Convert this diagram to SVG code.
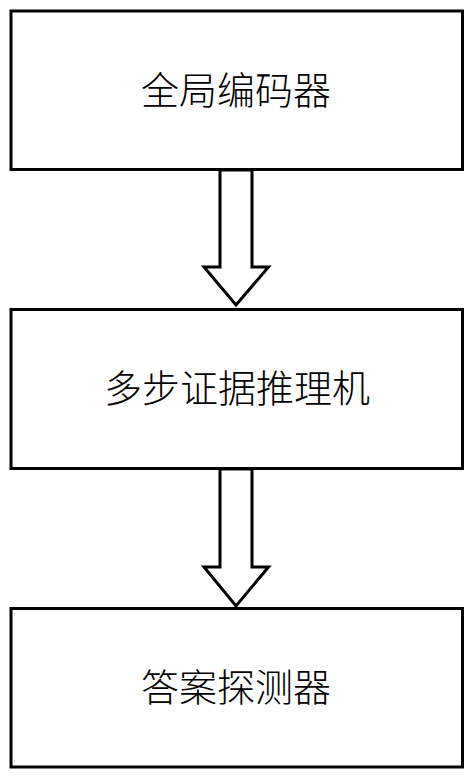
<svg xmlns="http://www.w3.org/2000/svg" width="474" height="780" viewBox="0 0 474 780">
<style>
.box{fill:#fff;stroke:#000;stroke-width:3}
.arrow{fill:#fff;stroke:#000;stroke-width:3;stroke-linejoin:miter}
.lbl{font-family:"Noto Sans CJK SC","Noto Sans",sans-serif;font-size:38px;font-weight:300;fill:#000;text-anchor:middle;dominant-baseline:central}
</style>
<rect width="474" height="780" fill="#fff"/>
<g id="connectors">
<polygon class="arrow" points="220,170 252,170 252,267 268.5,267 236,305 204,267 220,267"/>
<polygon class="arrow" points="220,469 252,469 252,567 268.5,567 236,606 204,567 220,567"/>
</g>
<g id="node-global-encoder">
<rect class="box" x="11" y="11" width="451.5" height="158.5"/>
<text class="lbl" x="236" y="87">全局编码器</text>
</g>
<g id="node-reasoner">
<rect class="box" x="11" y="309.5" width="451.5" height="159"/>
<text class="lbl" x="237" y="385">多步证据推理机</text>
</g>
<g id="node-answer-detector">
<rect class="box" x="11" y="608.5" width="451.5" height="158.5"/>
<text class="lbl" x="236" y="684">答案探测器</text>
</g>
</svg>
